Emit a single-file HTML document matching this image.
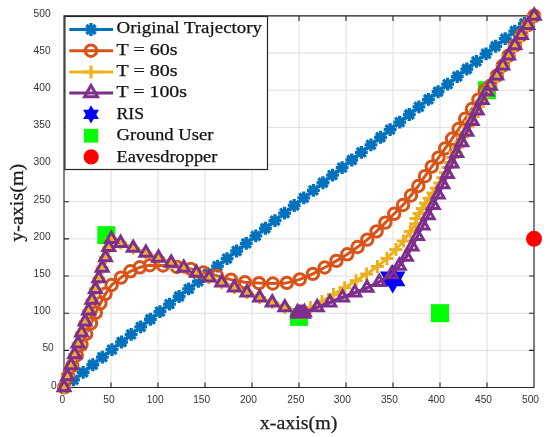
<!DOCTYPE html>
<html><head><meta charset="utf-8"><title>UAV trajectories</title>
<style>html,body{margin:0;padding:0;background:#fff}svg{display:block}</style></head>
<body>
<svg width="550" height="437" viewBox="0 0 550 437">
<rect width="550" height="437" fill="#fff"/>
<path d="M64 15.9V387.5M64 387.5H534M111 15.9V387.5M64 350.34H534M158 15.9V387.5M64 313.18H534M205 15.9V387.5M64 276.02H534M252 15.9V387.5M64 238.86H534M299 15.9V387.5M64 201.7H534M346 15.9V387.5M64 164.54H534M393 15.9V387.5M64 127.38H534M440 15.9V387.5M64 90.22H534M487 15.9V387.5M64 53.06H534M534 15.9V387.5M64 15.9H534" stroke="#dfdfdf" stroke-width="1" fill="none"/>
<path d="M64 15.9H534V387.5H64ZM64 387.5v-5M64 15.9v5M64 387.5h5M534 387.5h-5M111 387.5v-5M111 15.9v5M64 350.34h5M534 350.34h-5M158 387.5v-5M158 15.9v5M64 313.18h5M534 313.18h-5M205 387.5v-5M205 15.9v5M64 276.02h5M534 276.02h-5M252 387.5v-5M252 15.9v5M64 238.86h5M534 238.86h-5M299 387.5v-5M299 15.9v5M64 201.7h5M534 201.7h-5M346 387.5v-5M346 15.9v5M64 164.54h5M534 164.54h-5M393 387.5v-5M393 15.9v5M64 127.38h5M534 127.38h-5M440 387.5v-5M440 15.9v5M64 90.22h5M534 90.22h-5M487 387.5v-5M487 15.9v5M64 53.06h5M534 53.06h-5M534 387.5v-5M534 15.9v5M64 15.9h5M534 15.9h-5" stroke="#262626" stroke-width="1.1" fill="none"/>
<polygon points="392.7,264.2 396.94,271.55 405.43,271.55 401.19,278.9 405.43,286.25 396.94,286.25 392.7,293.6 388.46,286.25 379.97,286.25 384.21,278.9 379.97,271.55 388.46,271.55" fill="#0000ff"/>
<rect x="97.3" y="226.14" width="18" height="18" fill="#00ff00"/>
<rect x="290" y="307.9" width="18" height="18" fill="#00ff00"/>
<rect x="431" y="304.18" width="18" height="18" fill="#00ff00"/>
<rect x="478" y="81.22" width="18" height="18" fill="#00ff00"/>
<circle cx="534" cy="238.86" r="8" fill="#ff0000"/>
<polyline fill="none" stroke="#0072BD" stroke-width="3.0" stroke-linejoin="round" points="64,387.5 73.59,379.92 83.18,372.33 92.78,364.75 102.37,357.17 111.96,349.58 121.55,342 131.14,334.41 140.73,326.83 150.33,319.25 159.92,311.66 169.51,304.08 179.1,296.5 188.69,288.91 198.29,281.33 207.88,273.74 217.47,266.16 227.06,258.58 236.65,250.99 246.24,243.41 255.84,235.83 265.43,228.24 275.02,220.66 284.61,213.08 294.2,205.49 303.8,197.91 313.39,190.32 322.98,182.74 332.57,175.16 342.16,167.57 351.76,159.99 361.35,152.41 370.94,144.82 380.53,137.24 390.12,129.66 399.71,122.07 409.31,114.49 418.9,106.9 428.49,99.32 438.08,91.74 447.67,84.15 457.27,76.57 466.86,68.99 476.45,61.4 486.04,53.82 495.63,46.23 505.22,38.65 514.82,31.07 524.41,23.48 534,15.9"/>
<path d="M57.6 387.5H70.4M64 381.1V393.9M59.47 382.97L68.53 392.03M59.47 392.03L68.53 382.97M67.19 379.92H79.99M73.59 373.52V386.32M69.07 375.39L78.12 384.44M69.07 384.44L78.12 375.39M76.78 372.33H89.58M83.18 365.93V378.73M78.66 367.81L87.71 376.86M78.66 376.86L87.71 367.81M86.38 364.75H99.18M92.78 358.35V371.15M88.25 360.22L97.3 369.27M88.25 369.27L97.3 360.22M95.97 357.17H108.77M102.37 350.77V363.57M97.84 352.64L106.89 361.69M97.84 361.69L106.89 352.64M105.56 349.58H118.36M111.96 343.18V355.98M107.43 345.06L116.48 354.11M107.43 354.11L116.48 345.06M115.15 342H127.95M121.55 335.6V348.4M117.03 337.47L126.08 346.52M117.03 346.52L126.08 337.47M124.74 334.41H137.54M131.14 328.01V340.81M126.62 329.89L135.67 338.94M126.62 338.94L135.67 329.89M134.33 326.83H147.13M140.73 320.43V333.23M136.21 322.31L145.26 331.36M136.21 331.36L145.26 322.31M143.93 319.25H156.73M150.33 312.85V325.65M145.8 314.72L154.85 323.77M145.8 323.77L154.85 314.72M153.52 311.66H166.32M159.92 305.26V318.06M155.39 307.14L164.44 316.19M155.39 316.19L164.44 307.14M163.11 304.08H175.91M169.51 297.68V310.48M164.98 299.55L174.04 308.61M164.98 308.61L174.04 299.55M172.7 296.5H185.5M179.1 290.1V302.9M174.58 291.97L183.63 301.02M174.58 301.02L183.63 291.97M182.29 288.91H195.09M188.69 282.51V295.31M184.17 284.39L193.22 293.44M184.17 293.44L193.22 284.39M191.89 281.33H204.69M198.29 274.93V287.73M193.76 276.8L202.81 285.85M193.76 285.85L202.81 276.8M201.48 273.74H214.28M207.88 267.34V280.14M203.35 269.22L212.4 278.27M203.35 278.27L212.4 269.22M211.07 266.16H223.87M217.47 259.76V272.56M212.94 261.64L221.99 270.69M212.94 270.69L221.99 261.64M220.66 258.58H233.46M227.06 252.18V264.98M222.54 254.05L231.59 263.1M222.54 263.1L231.59 254.05M230.25 250.99H243.05M236.65 244.59V257.39M232.13 246.47L241.18 255.52M232.13 255.52L241.18 246.47M239.84 243.41H252.64M246.24 237.01V249.81M241.72 238.88L250.77 247.94M241.72 247.94L250.77 238.88M249.44 235.83H262.24M255.84 229.43V242.23M251.31 231.3L260.36 240.35M251.31 240.35L260.36 231.3M259.03 228.24H271.83M265.43 221.84V234.64M260.9 223.72L269.95 232.77M260.9 232.77L269.95 223.72M268.62 220.66H281.42M275.02 214.26V227.06M270.49 216.13L279.55 225.18M270.49 225.18L279.55 216.13M278.21 213.08H291.01M284.61 206.68V219.48M280.09 208.55L289.14 217.6M280.09 217.6L289.14 208.55M287.8 205.49H300.6M294.2 199.09V211.89M289.68 200.97L298.73 210.02M289.68 210.02L298.73 200.97M297.4 197.91H310.2M303.8 191.51V204.31M299.27 193.38L308.32 202.43M299.27 202.43L308.32 193.38M306.99 190.32H319.79M313.39 183.92V196.72M308.86 185.8L317.91 194.85M308.86 194.85L317.91 185.8M316.58 182.74H329.38M322.98 176.34V189.14M318.45 178.22L327.51 187.27M318.45 187.27L327.51 178.22M326.17 175.16H338.97M332.57 168.76V181.56M328.05 170.63L337.1 179.68M328.05 179.68L337.1 170.63M335.76 167.57H348.56M342.16 161.17V173.97M337.64 163.05L346.69 172.1M337.64 172.1L346.69 163.05M345.36 159.99H358.16M351.76 153.59V166.39M347.23 155.46L356.28 164.52M347.23 164.52L356.28 155.46M354.95 152.41H367.75M361.35 146.01V158.81M356.82 147.88L365.87 156.93M356.82 156.93L365.87 147.88M364.54 144.82H377.34M370.94 138.42V151.22M366.41 140.3L375.46 149.35M366.41 149.35L375.46 140.3M374.13 137.24H386.93M380.53 130.84V143.64M376.01 132.71L385.06 141.76M376.01 141.76L385.06 132.71M383.72 129.66H396.52M390.12 123.26V136.06M385.6 125.13L394.65 134.18M385.6 134.18L394.65 125.13M393.31 122.07H406.11M399.71 115.67V128.47M395.19 117.55L404.24 126.6M395.19 126.6L404.24 117.55M402.91 114.49H415.71M409.31 108.09V120.89M404.78 109.96L413.83 119.01M404.78 119.01L413.83 109.96M412.5 106.9H425.3M418.9 100.5V113.3M414.37 102.38L423.42 111.43M414.37 111.43L423.42 102.38M422.09 99.32H434.89M428.49 92.92V105.72M423.96 94.79L433.02 103.85M423.96 103.85L433.02 94.79M431.68 91.74H444.48M438.08 85.34V98.14M433.56 87.21L442.61 96.26M433.56 96.26L442.61 87.21M441.27 84.15H454.07M447.67 77.75V90.55M443.15 79.63L452.2 88.68M443.15 88.68L452.2 79.63M450.87 76.57H463.67M457.27 70.17V82.97M452.74 72.04L461.79 81.09M452.74 81.09L461.79 72.04M460.46 68.99H473.26M466.86 62.59V75.39M462.33 64.46L471.38 73.51M462.33 73.51L471.38 64.46M470.05 61.4H482.85M476.45 55V67.8M471.92 56.88L480.97 65.93M471.92 65.93L480.97 56.88M479.64 53.82H492.44M486.04 47.42V60.22M481.52 49.29L490.57 58.34M481.52 58.34L490.57 49.29M489.23 46.23H502.03M495.63 39.83V52.63M491.11 41.71L500.16 50.76M491.11 50.76L500.16 41.71M498.82 38.65H511.62M505.22 32.25V45.05M500.7 34.13L509.75 43.18M500.7 43.18L509.75 34.13M508.42 31.07H521.22M514.82 24.67V37.47M510.29 26.54L519.34 35.59M510.29 35.59L519.34 26.54M518.01 23.48H530.81M524.41 17.08V29.88M519.88 18.96L528.93 28.01M519.88 28.01L528.93 18.96M527.6 15.9H540.4M534 9.5V22.3M529.47 11.37L538.53 20.43M529.47 20.43L538.53 11.37" stroke="#0072BD" stroke-width="3.3" fill="none"/>
<polyline fill="none" stroke="#D95319" stroke-width="3.0" stroke-linejoin="round" points="64.2,387.3 68,376.4 72.3,365.8 76.8,355.2 81.5,344.6 86.2,334 91,323.4 95.8,312.8 100.4,303.3 105.5,293.8 111.6,285 121,277.6 130.4,271.3 139.8,267.3 149.8,265.2 163,265.5 176.9,267 190.8,269 203.5,272.5 216.9,275.8 230.9,279.6 244.9,282.3 259,283.1 272.8,283.5 286.8,282.9 299.8,279.4 312.9,273.9 324.7,267.5 336.4,260.9 347.3,254.3 357.6,247 367.3,239.6 376.6,231.4 385.4,222.6 394.2,213.8 403,205 411,195.5 418.3,186 425,176.2 431.8,166.6 438.5,157.6 445.2,148.4 452,138.8 458.6,129 465.2,118.8 471.9,109 478.4,99.6 484.6,90.8 490.4,85.8 496.8,75.6 502.8,65.6 508.6,55.7 514.9,45.4 521.4,35.2 527.8,25.2 534.2,15.8"/>
<g fill="none" stroke="#D95319" stroke-width="3.0"><circle cx="64.2" cy="387.3" r="5.7"/><circle cx="68" cy="376.4" r="5.7"/><circle cx="72.3" cy="365.8" r="5.7"/><circle cx="76.8" cy="355.2" r="5.7"/><circle cx="81.5" cy="344.6" r="5.7"/><circle cx="86.2" cy="334" r="5.7"/><circle cx="91" cy="323.4" r="5.7"/><circle cx="95.8" cy="312.8" r="5.7"/><circle cx="100.4" cy="303.3" r="5.7"/><circle cx="105.5" cy="293.8" r="5.7"/><circle cx="111.6" cy="285" r="5.7"/><circle cx="121" cy="277.6" r="5.7"/><circle cx="130.4" cy="271.3" r="5.7"/><circle cx="139.8" cy="267.3" r="5.7"/><circle cx="149.8" cy="265.2" r="5.7"/><circle cx="163" cy="265.5" r="5.7"/><circle cx="176.9" cy="267" r="5.7"/><circle cx="190.8" cy="269" r="5.7"/><circle cx="203.5" cy="272.5" r="5.7"/><circle cx="216.9" cy="275.8" r="5.7"/><circle cx="230.9" cy="279.6" r="5.7"/><circle cx="244.9" cy="282.3" r="5.7"/><circle cx="259" cy="283.1" r="5.7"/><circle cx="272.8" cy="283.5" r="5.7"/><circle cx="286.8" cy="282.9" r="5.7"/><circle cx="299.8" cy="279.4" r="5.7"/><circle cx="312.9" cy="273.9" r="5.7"/><circle cx="324.7" cy="267.5" r="5.7"/><circle cx="336.4" cy="260.9" r="5.7"/><circle cx="347.3" cy="254.3" r="5.7"/><circle cx="357.6" cy="247" r="5.7"/><circle cx="367.3" cy="239.6" r="5.7"/><circle cx="376.6" cy="231.4" r="5.7"/><circle cx="385.4" cy="222.6" r="5.7"/><circle cx="394.2" cy="213.8" r="5.7"/><circle cx="403" cy="205" r="5.7"/><circle cx="411" cy="195.5" r="5.7"/><circle cx="418.3" cy="186" r="5.7"/><circle cx="425" cy="176.2" r="5.7"/><circle cx="431.8" cy="166.6" r="5.7"/><circle cx="438.5" cy="157.6" r="5.7"/><circle cx="445.2" cy="148.4" r="5.7"/><circle cx="452" cy="138.8" r="5.7"/><circle cx="458.6" cy="129" r="5.7"/><circle cx="465.2" cy="118.8" r="5.7"/><circle cx="471.9" cy="109" r="5.7"/><circle cx="478.4" cy="99.6" r="5.7"/><circle cx="484.6" cy="90.8" r="5.7"/><circle cx="490.4" cy="85.8" r="5.7"/><circle cx="496.8" cy="75.6" r="5.7"/><circle cx="502.8" cy="65.6" r="5.7"/><circle cx="508.6" cy="55.7" r="5.7"/><circle cx="514.9" cy="45.4" r="5.7"/><circle cx="521.4" cy="35.2" r="5.7"/><circle cx="527.8" cy="25.2" r="5.7"/><circle cx="534.2" cy="15.8" r="5.7"/></g>
<polyline fill="none" stroke="#7E2F8E" stroke-width="3.0" stroke-linejoin="round" points="64.1,387.3 67.59,376.35 71.08,365.4 74.57,354.45 78.06,343.5 81.55,332.55 85.05,321.6 88.54,310.65 91.99,299.8 95.44,289 98.85,278.3 102.2,267.8 105.51,257.4 108.76,247.2 111.38,239 120.6,243 133.24,247.96 145.87,252.91 158.51,257.87 171.14,262.83 183.78,267.79 196.41,272.74 209.05,277.7 221.69,282.66 234.32,287.61 246.96,292.57 259.59,297.53 272.23,302.49 284.86,307.44 297.5,312.4 297.5,312.4 299.2,313.7 301,313.3 302.7,313.7 304.4,312.4 297.5,312.4 299.2,313.7 301,313.3 302.7,313.7 304.4,312.4 297.5,312.4 299.2,313.7 301,313.3 302.7,313.7 304.4,312.4 297.5,312.4 299.2,313.7 301,313.3 302.7,313.7 304.4,312.4 297.5,312.4 299.2,313.7 301,313.3 302.7,313.7 304.4,312.4 297.5,312.4 299.2,313.7 301,313.3 302.7,313.7 304.4,312.4 297.5,312.4 299.2,313.7 301,313.3 302.7,313.7 304.4,312.4 298.4,313.8 303.6,313.8 317.2,307.3 329.8,302.5 342.5,297.5 354.8,292.6 367,287.8 379.2,282 391.5,274.4 399.3,265.8 406.4,256.8 412,246.5 417.5,236.1 423,225.6 428.3,215.4 433.3,205 438.2,194.6 442.9,184.4 447.4,174.2 452,163.6 456.7,153.1 461.8,142.4 466.9,131.8 472.2,121.1 477.2,110.6 482.2,100.2 486.9,91.6 490.4,85.8 496.8,75.6 502.8,65.6 508.6,55.7 514.9,45.4 521.4,35.2 527.8,25.2 534.2,15.8"/>
<polyline fill="none" stroke="#EDB120" stroke-width="3.0" stroke-linejoin="round" points="64.1,387.3 67.59,376.35 71.08,365.4 74.57,354.45 78.06,343.5 81.55,332.55 85.05,321.6 88.54,310.65 91.99,299.8 95.44,289 98.85,278.3 102.2,267.8 105.51,257.4 108.76,247.2 111.38,239 120.6,243 133.24,247.96 145.87,252.91 158.51,257.87 171.14,262.83 183.78,267.79 196.41,272.74 209.05,277.7 221.69,282.66 234.32,287.61 246.96,292.57 259.59,297.53 272.23,302.49 284.86,307.44 297.5,312.4 299,312.6 300.5,312.8 302,312.8 303.2,312.6 304.4,312.4 310.3,307.6 322,301.4 333.5,294.4 344.7,287.8 356,280.7 366.6,274 377.4,266.5 387,258.5 395.9,249.4 403.5,240.9 410.3,231.4 415.8,223.7 416.1,218.6 419.14,213.5 422.27,208.4 425.42,203.3 429.11,198.2 432.99,193.1 436.6,188 439.84,182.9 442.83,177.8 445.58,172.7 448.1,167.6 450.4,162.5 452.76,157.4 455.15,152.3 457.67,147.2 460.2,142.1 462.76,137 465.31,131.9 467.96,126.8 470.61,121.7 473.18,116.6 475.73,111.5 478.4,106.4 481.11,101.3 484.12,96.2 486.9,91.6 490.4,85.8 496.8,75.6 502.8,65.6 508.6,55.7 514.9,45.4 521.4,35.2 527.8,25.2 534.2,15.8"/>
<path d="M57.6 387.3H70.6M64.1 380.8V393.8M61.09 376.35H74.09M67.59 369.85V382.85M64.58 365.4H77.58M71.08 358.9V371.9M68.07 354.45H81.07M74.57 347.95V360.95M71.56 343.5H84.56M78.06 337V350M75.05 332.55H88.05M81.55 326.05V339.05M78.55 321.6H91.55M85.05 315.1V328.1M82.04 310.65H95.04M88.54 304.15V317.15M85.49 299.8H98.49M91.99 293.3V306.3M88.94 289H101.94M95.44 282.5V295.5M92.35 278.3H105.35M98.85 271.8V284.8M95.7 267.8H108.7M102.2 261.3V274.3M99.01 257.4H112.01M105.51 250.9V263.9M102.26 247.2H115.26M108.76 240.7V253.7M104.88 239H117.88M111.38 232.5V245.5M114.1 243H127.1M120.6 236.5V249.5M126.74 247.96H139.74M133.24 241.46V254.46M139.37 252.91H152.37M145.87 246.41V259.41M152.01 257.87H165.01M158.51 251.37V264.37M164.64 262.83H177.64M171.14 256.33V269.33M177.28 267.79H190.28M183.78 261.29V274.29M189.91 272.74H202.91M196.41 266.24V279.24M202.55 277.7H215.55M209.05 271.2V284.2M215.19 282.66H228.19M221.69 276.16V289.16M227.82 287.61H240.82M234.32 281.11V294.11M240.46 292.57H253.46M246.96 286.07V299.07M253.09 297.53H266.09M259.59 291.03V304.03M265.73 302.49H278.73M272.23 295.99V308.99M278.36 307.44H291.36M284.86 300.94V313.94M291 312.4H304M297.5 305.9V318.9M292.5 312.6H305.5M299 306.1V319.1M294 312.8H307M300.5 306.3V319.3M295.5 312.8H308.5M302 306.3V319.3M296.7 312.6H309.7M303.2 306.1V319.1M297.9 312.4H310.9M304.4 305.9V318.9M303.8 307.6H316.8M310.3 301.1V314.1M315.5 301.4H328.5M322 294.9V307.9M327 294.4H340M333.5 287.9V300.9M338.2 287.8H351.2M344.7 281.3V294.3M349.5 280.7H362.5M356 274.2V287.2M360.1 274H373.1M366.6 267.5V280.5M370.9 266.5H383.9M377.4 260V273M380.5 258.5H393.5M387 252V265M389.4 249.4H402.4M395.9 242.9V255.9M397 240.9H410M403.5 234.4V247.4M403.8 231.4H416.8M410.3 224.9V237.9M409.3 223.7H422.3M415.8 217.2V230.2M409.6 218.6H422.6M416.1 212.1V225.1M412.64 213.5H425.64M419.14 207V220M415.77 208.4H428.77M422.27 201.9V214.9M418.92 203.3H431.92M425.42 196.8V209.8M422.61 198.2H435.61M429.11 191.7V204.7M426.49 193.1H439.49M432.99 186.6V199.6M430.1 188H443.1M436.6 181.5V194.5M433.34 182.9H446.34M439.84 176.4V189.4M436.33 177.8H449.33M442.83 171.3V184.3M439.08 172.7H452.08M445.58 166.2V179.2M441.6 167.6H454.6M448.1 161.1V174.1M443.9 162.5H456.9M450.4 156V169M446.26 157.4H459.26M452.76 150.9V163.9M448.65 152.3H461.65M455.15 145.8V158.8M451.17 147.2H464.17M457.67 140.7V153.7M453.7 142.1H466.7M460.2 135.6V148.6M456.26 137H469.26M462.76 130.5V143.5M458.81 131.9H471.81M465.31 125.4V138.4M461.46 126.8H474.46M467.96 120.3V133.3M464.11 121.7H477.11M470.61 115.2V128.2M466.68 116.6H479.68M473.18 110.1V123.1M469.23 111.5H482.23M475.73 105V118M471.9 106.4H484.9M478.4 99.9V112.9M474.61 101.3H487.61M481.11 94.8V107.8M477.62 96.2H490.62M484.12 89.7V102.7M480.4 91.6H493.4M486.9 85.1V98.1M483.9 85.8H496.9M490.4 79.3V92.3M490.3 75.6H503.3M496.8 69.1V82.1M496.3 65.6H509.3M502.8 59.1V72.1M502.1 55.7H515.1M508.6 49.2V62.2M508.4 45.4H521.4M514.9 38.9V51.9M514.9 35.2H527.9M521.4 28.7V41.7M521.3 25.2H534.3M527.8 18.7V31.7M527.7 15.8H540.7M534.2 9.3V22.3" stroke="#EDB120" stroke-width="3.0" fill="none"/>
<polyline fill="none" stroke="#7E2F8E" stroke-width="3.0" stroke-linejoin="round" points="298.4,313.8 317.2,307.3 329.8,302.5 342.5,297.5 354.8,292.6 367,287.8 379.2,282 391.5,274.4 399.3,265.8 406.4,256.8 412,246.5 417.5,236.1 423,225.6 428.3,215.4 433.3,205 438.2,194.6 442.9,184.4 447.4,174.2 452,163.6 456.7,153.1 461.8,142.4 466.9,131.8 472.2,121.1 477.2,110.6 482.2,100.2 486.9,91.6"/>
<path d="M64.1 380.5L69.99 390.7L58.21 390.7ZM67.59 369.55L73.48 379.75L61.7 379.75ZM71.08 358.6L76.97 368.8L65.19 368.8ZM74.57 347.65L80.46 357.85L68.68 357.85ZM78.06 336.7L83.95 346.9L72.17 346.9ZM81.55 325.75L87.44 335.95L75.67 335.95ZM85.05 314.8L90.93 325L79.16 325ZM88.54 303.85L94.42 314.05L82.65 314.05ZM91.99 293L97.88 303.2L86.11 303.2ZM95.44 282.2L101.33 292.4L89.55 292.4ZM98.85 271.5L104.74 281.7L92.96 281.7ZM102.2 261L108.09 271.2L96.31 271.2ZM105.51 250.6L111.4 260.8L99.62 260.8ZM108.76 240.4L114.65 250.6L102.88 250.6ZM111.38 232.2L117.27 242.4L105.49 242.4ZM120.6 236.2L126.49 246.4L114.71 246.4ZM133.24 241.16L139.12 251.36L127.35 251.36ZM145.87 246.11L151.76 256.31L139.98 256.31ZM158.51 251.07L164.4 261.27L152.62 261.27ZM171.14 256.03L177.03 266.23L165.25 266.23ZM183.78 260.99L189.67 271.19L177.89 271.19ZM196.41 265.94L202.3 276.14L190.53 276.14ZM209.05 270.9L214.94 281.1L203.16 281.1ZM221.69 275.86L227.57 286.06L215.8 286.06ZM234.32 280.81L240.21 291.01L228.43 291.01ZM246.96 285.77L252.85 295.97L241.07 295.97ZM259.59 290.73L265.48 300.93L253.7 300.93ZM272.23 295.69L278.12 305.89L266.34 305.89ZM284.86 300.64L290.75 310.84L278.98 310.84ZM297.5 305.6L303.39 315.8L291.61 315.8ZM297.5 305.6L303.39 315.8L291.61 315.8ZM299.2 306.9L305.09 317.1L293.31 317.1ZM301 306.5L306.89 316.7L295.11 316.7ZM302.7 306.9L308.59 317.1L296.81 317.1ZM304.4 305.6L310.29 315.8L298.51 315.8ZM297.5 305.6L303.39 315.8L291.61 315.8ZM299.2 306.9L305.09 317.1L293.31 317.1ZM301 306.5L306.89 316.7L295.11 316.7ZM302.7 306.9L308.59 317.1L296.81 317.1ZM304.4 305.6L310.29 315.8L298.51 315.8ZM297.5 305.6L303.39 315.8L291.61 315.8ZM299.2 306.9L305.09 317.1L293.31 317.1ZM301 306.5L306.89 316.7L295.11 316.7ZM302.7 306.9L308.59 317.1L296.81 317.1ZM304.4 305.6L310.29 315.8L298.51 315.8ZM297.5 305.6L303.39 315.8L291.61 315.8ZM299.2 306.9L305.09 317.1L293.31 317.1ZM301 306.5L306.89 316.7L295.11 316.7ZM302.7 306.9L308.59 317.1L296.81 317.1ZM304.4 305.6L310.29 315.8L298.51 315.8ZM297.5 305.6L303.39 315.8L291.61 315.8ZM299.2 306.9L305.09 317.1L293.31 317.1ZM301 306.5L306.89 316.7L295.11 316.7ZM302.7 306.9L308.59 317.1L296.81 317.1ZM304.4 305.6L310.29 315.8L298.51 315.8ZM297.5 305.6L303.39 315.8L291.61 315.8ZM299.2 306.9L305.09 317.1L293.31 317.1ZM301 306.5L306.89 316.7L295.11 316.7ZM302.7 306.9L308.59 317.1L296.81 317.1ZM304.4 305.6L310.29 315.8L298.51 315.8ZM297.5 305.6L303.39 315.8L291.61 315.8ZM299.2 306.9L305.09 317.1L293.31 317.1ZM301 306.5L306.89 316.7L295.11 316.7ZM302.7 306.9L308.59 317.1L296.81 317.1ZM304.4 305.6L310.29 315.8L298.51 315.8ZM298.4 307L304.29 317.2L292.51 317.2ZM303.6 307L309.49 317.2L297.71 317.2ZM317.2 300.5L323.09 310.7L311.31 310.7ZM329.8 295.7L335.69 305.9L323.91 305.9ZM342.5 290.7L348.39 300.9L336.61 300.9ZM354.8 285.8L360.69 296L348.91 296ZM367 281L372.89 291.2L361.11 291.2ZM379.2 275.2L385.09 285.4L373.31 285.4ZM391.5 267.6L397.39 277.8L385.61 277.8ZM399.3 259L405.19 269.2L393.41 269.2ZM406.4 250L412.29 260.2L400.51 260.2ZM412 239.7L417.89 249.9L406.11 249.9ZM417.5 229.3L423.39 239.5L411.61 239.5ZM423 218.8L428.89 229L417.11 229ZM428.3 208.6L434.19 218.8L422.41 218.8ZM433.3 198.2L439.19 208.4L427.41 208.4ZM438.2 187.8L444.09 198L432.31 198ZM442.9 177.6L448.79 187.8L437.01 187.8ZM447.4 167.4L453.29 177.6L441.51 177.6ZM452 156.8L457.89 167L446.11 167ZM456.7 146.3L462.59 156.5L450.81 156.5ZM461.8 135.6L467.69 145.8L455.91 145.8ZM466.9 125L472.79 135.2L461.01 135.2ZM472.2 114.3L478.09 124.5L466.31 124.5ZM477.2 103.8L483.09 114L471.31 114ZM482.2 93.4L488.09 103.6L476.31 103.6ZM486.9 84.8L492.79 95L481.01 95ZM490.4 79L496.29 89.2L484.51 89.2ZM496.8 68.8L502.69 79L490.91 79ZM502.8 58.8L508.69 69L496.91 69ZM508.6 48.9L514.49 59.1L502.71 59.1ZM514.9 38.6L520.79 48.8L509.01 48.8ZM521.4 28.4L527.29 38.6L515.51 38.6ZM527.8 18.4L533.69 28.6L521.91 28.6ZM534.2 9L540.09 19.2L528.31 19.2Z" stroke="#7E2F8E" stroke-width="3.0" fill="none" stroke-linejoin="miter"/>
<g font-family="'Liberation Sans', Arial, sans-serif" font-size="10.2" fill="#333">
<text x="62.4" y="402.9" text-anchor="middle">0</text>
<text x="108.9" y="402.9" text-anchor="middle">50</text>
<text x="155.2" y="402.9" text-anchor="middle">100</text>
<text x="201.7" y="402.9" text-anchor="middle">150</text>
<text x="248.4" y="402.9" text-anchor="middle">200</text>
<text x="295.8" y="402.9" text-anchor="middle">250</text>
<text x="342.3" y="402.9" text-anchor="middle">300</text>
<text x="389.4" y="402.9" text-anchor="middle">350</text>
<text x="436.4" y="402.9" text-anchor="middle">400</text>
<text x="483.5" y="402.9" text-anchor="middle">450</text>
<text x="530.5" y="402.9" text-anchor="middle">500</text>
<text x="33.6" y="16.65">500</text>
<text x="33.6" y="53.84">450</text>
<text x="33.6" y="91.03">400</text>
<text x="33.6" y="128.22">350</text>
<text x="33.6" y="165.41">300</text>
<text x="33.6" y="202.6">250</text>
<text x="33.6" y="239.79">200</text>
<text x="33.6" y="276.98">150</text>
<text x="33.6" y="314.17">100</text>
<text x="42.4" y="351.36">50</text>
<text x="51" y="388.55">0</text>
</g>
<g font-family="'Liberation Serif', 'Times New Roman', serif" fill="#1a1a1a" stroke="#1a1a1a" stroke-width="0.25">
 <text x="298.6" y="428.8" font-size="18" text-anchor="middle" textLength="77.5" lengthAdjust="spacingAndGlyphs">x-axis(m)</text>
<text transform="translate(22.8 202.8) rotate(-90)" font-size="18" text-anchor="middle" textLength="78" lengthAdjust="spacingAndGlyphs">y-axis(m)</text>
</g>
<rect x="64.9" y="16.5" width="202.6" height="153" fill="#fff" stroke="#262626" stroke-width="1.2"/>
<path d="M69.3 29.5H113.1" stroke="#0072BD" stroke-width="3.0"/>
<path d="M69.3 50.7H113.1" stroke="#D95319" stroke-width="3.0"/>
<path d="M69.3 71.9H113.1" stroke="#EDB120" stroke-width="3.0"/>
<path d="M69.3 93.1H113.1" stroke="#7E2F8E" stroke-width="3.0"/>
<path d="M84.6 29.5H97.4M91 23.1V35.9M86.47 24.97L95.53 34.03M86.47 34.03L95.53 24.97" stroke="#0072BD" stroke-width="3.3" fill="none"/>
<circle cx="91" cy="50.7" r="5.7" fill="none" stroke="#D95319" stroke-width="3.0"/>
<path d="M84.5 71.9H97.5M91 65.4V78.4" stroke="#EDB120" stroke-width="3.0" fill="none"/>
<path d="M91 85.6L97.5 96.85L84.5 96.85Z" stroke="#7E2F8E" stroke-width="3.0" fill="none"/>
<polygon points="91,105.3 93.63,109.85 98.88,109.85 96.25,114.4 98.88,118.95 93.63,118.95 91,123.5 88.37,118.95 83.12,118.95 85.75,114.4 83.12,109.85 88.37,109.85" fill="#0000ff"/>
<rect x="84" y="128.8" width="14.2" height="13.8" fill="#00ff00"/>
<circle cx="91.2" cy="156.8" r="7.6" fill="#ff0000"/>
<g font-family="'Liberation Serif', 'Times New Roman', serif" font-size="17.6" fill="#111" stroke="#111" stroke-width="0.25">
<text x="116.5" y="33.3" textLength="145.5" lengthAdjust="spacingAndGlyphs">Original Trajectory</text>
<text x="116.5" y="54.8" textLength="61" lengthAdjust="spacingAndGlyphs">T = 60s</text>
<text x="116.5" y="76" textLength="61" lengthAdjust="spacingAndGlyphs">T = 80s</text>
<text x="116.5" y="97.1" textLength="70.5" lengthAdjust="spacingAndGlyphs">T = 100s</text>
<text x="116.5" y="119.2" textLength="27.5" lengthAdjust="spacingAndGlyphs">RIS</text>
<text x="116.5" y="140.4" textLength="97" lengthAdjust="spacingAndGlyphs">Ground User</text>
<text x="116.5" y="161.6" textLength="100.8" lengthAdjust="spacingAndGlyphs">Eavesdropper</text>
</g>
</svg>
</body></html>
